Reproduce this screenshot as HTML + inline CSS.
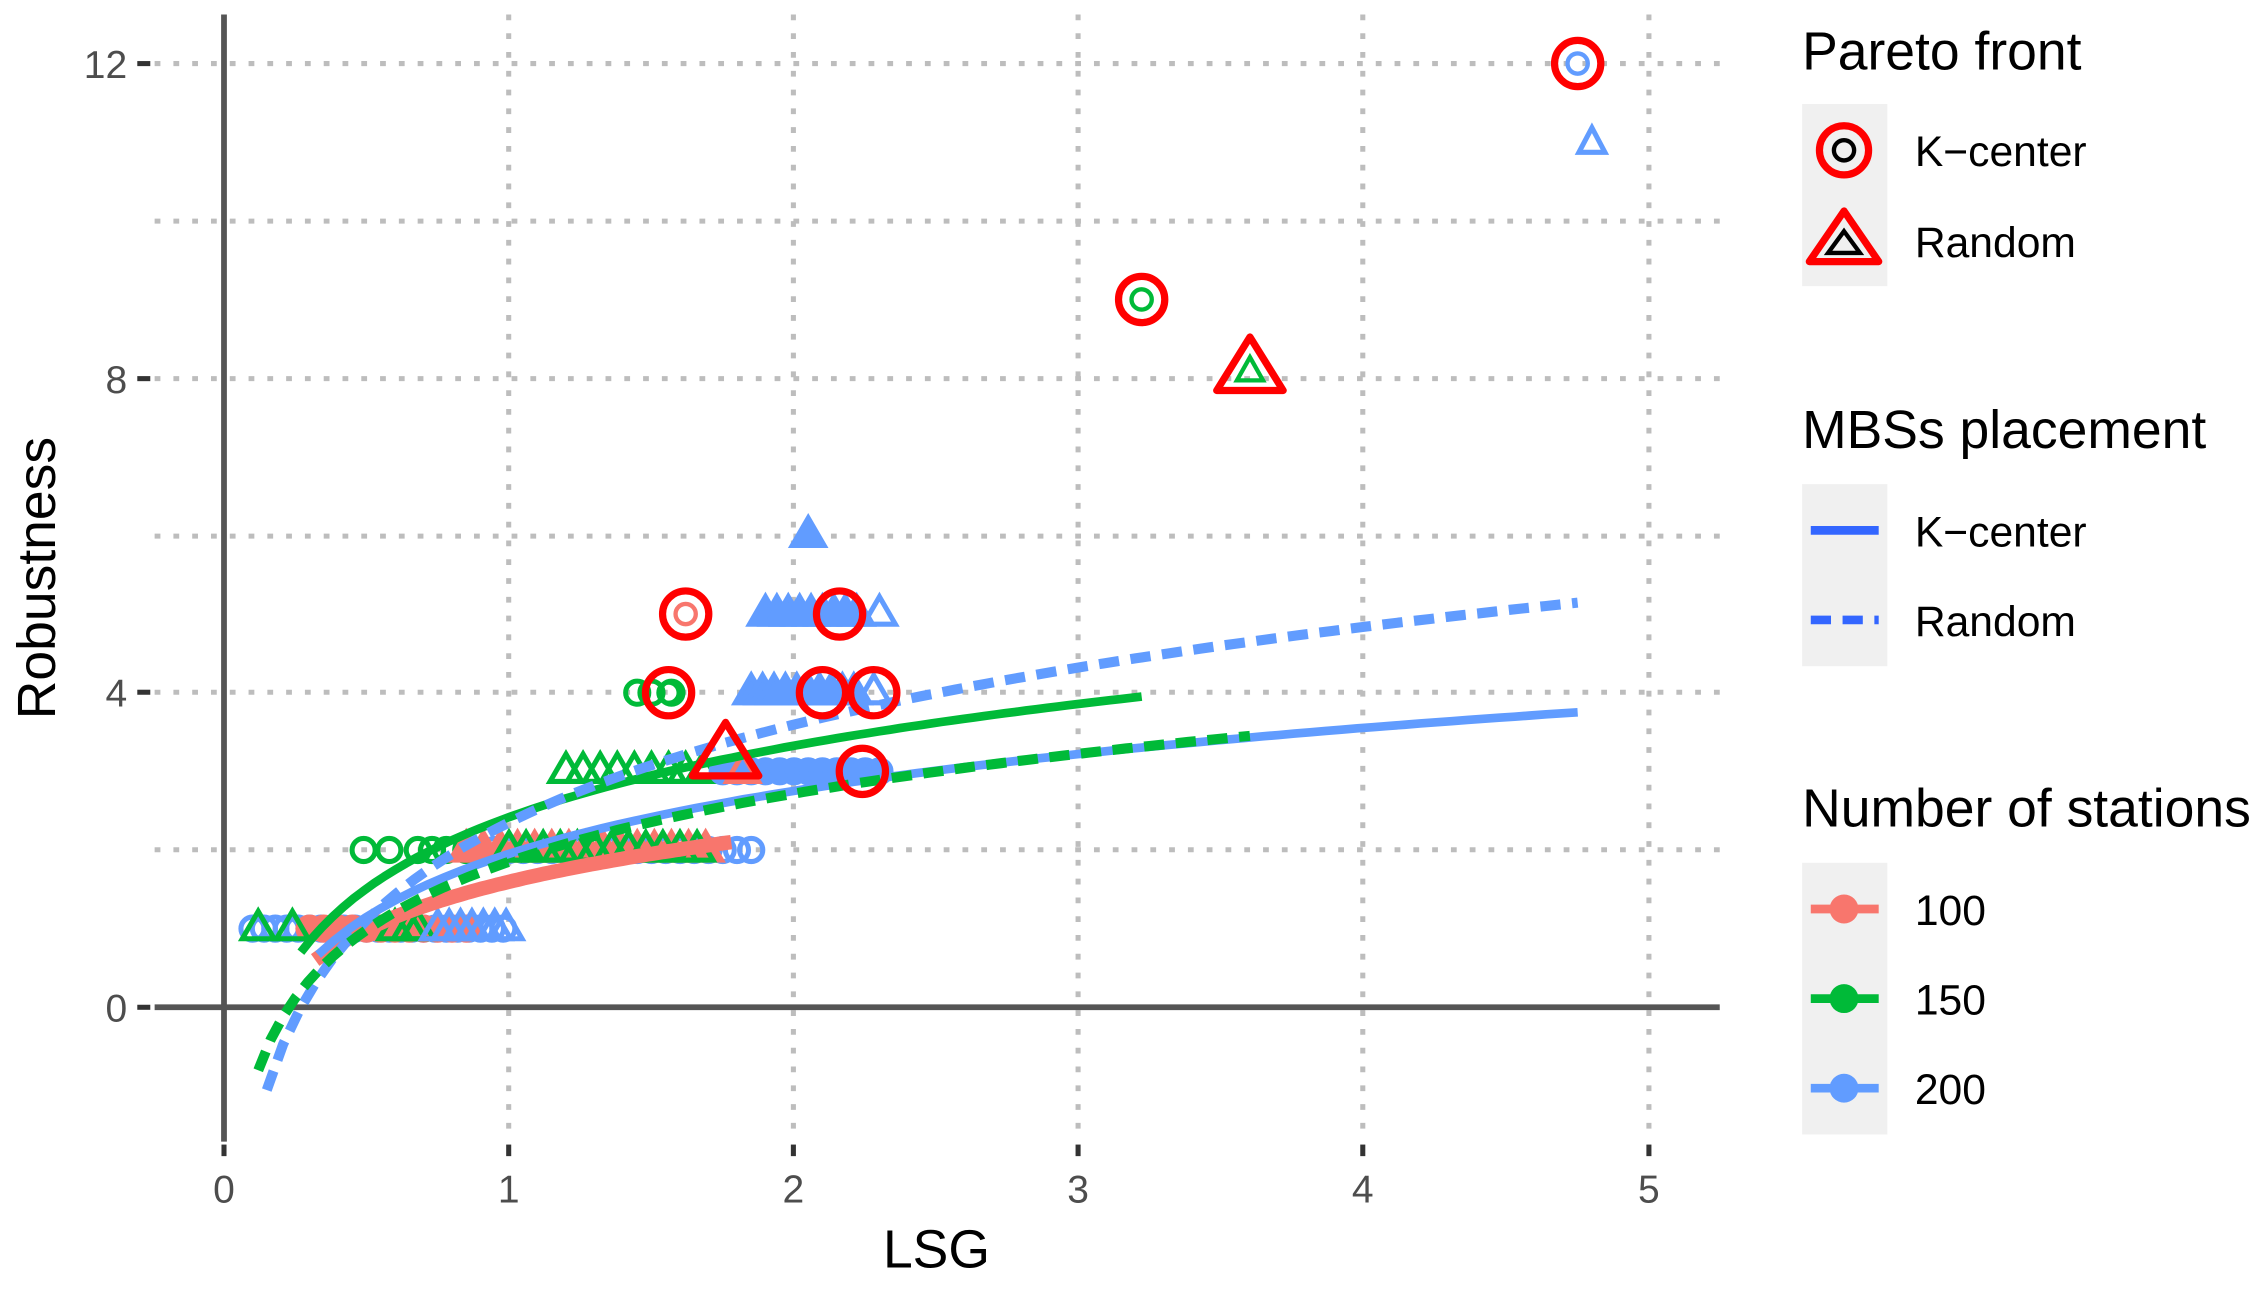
<!DOCTYPE html>
<html><head><meta charset="utf-8"><style>html,body{margin:0;padding:0;background:#fff}svg{display:block}</style></head>
<body>
<svg id="s" width="2266" height="1294" viewBox="0 0 1568 895.4" preserveAspectRatio="none" xmlns="http://www.w3.org/2000/svg" font-family="Liberation Sans, Arial, sans-serif">
<g stroke="#bdbdbd" stroke-width="3.5" stroke-dasharray="4,9">
<line x1="107" x2="1190" y1="44" y2="44"/><line x1="107" x2="1190" y1="153" y2="153"/><line x1="107" x2="1190" y1="262" y2="262"/><line x1="107" x2="1190" y1="371" y2="371"/><line x1="107" x2="1190" y1="479" y2="479"/><line x1="107" x2="1190" y1="588" y2="588"/>
<line x1="352" x2="352" y1="10" y2="790"/><line x1="549" x2="549" y1="10" y2="790"/><line x1="746" x2="746" y1="10" y2="790"/><line x1="943" x2="943" y1="10" y2="790"/><line x1="1141" x2="1141" y1="10" y2="790"/>
</g>
<line x1="155" x2="155" y1="10" y2="790" stroke="#555" stroke-width="4"/>
<line x1="107" x2="1190" y1="697" y2="697" stroke="#555" stroke-width="4"/>
<g stroke="#333" stroke-width="3.5">
<line x1="95" x2="104" y1="44" y2="44"/><line x1="95" x2="104" y1="262" y2="262"/><line x1="95" x2="104" y1="479" y2="479"/><line x1="95" x2="104" y1="697" y2="697"/>
<line x1="155" x2="155" y1="792" y2="800"/><line x1="352" x2="352" y1="792" y2="800"/><line x1="549" x2="549" y1="792" y2="800"/><line x1="746" x2="746" y1="792" y2="800"/><line x1="943" x2="943" y1="792" y2="800"/><line x1="1141" x2="1141" y1="792" y2="800"/>
</g>
<g font-size="27" fill="#4d4d4d" text-anchor="end">
<text x="88" y="54">12</text><text x="88" y="272">8</text><text x="88" y="489">4</text><text x="88" y="707">0</text>
</g>
<g font-size="27" fill="#4d4d4d" text-anchor="middle">
<text x="155" y="832">0</text><text x="352" y="832">1</text><text x="549" y="832">2</text><text x="746" y="832">3</text><text x="943" y="832">4</text><text x="1141" y="832">5</text>
</g>
<text x="648" y="877" font-size="37" text-anchor="middle">LSG</text>
<text transform="translate(38,400) rotate(-90)" font-size="37" text-anchor="middle">Robustness</text>
<g id="pts"></g>
<g id="crv"></g>
<g id="par"></g>
<text x="1247" y="48" font-size="37">Pareto front</text>
<rect x="1247" y="72" width="59" height="126" fill="#f0f0f0"/>
<circle cx="1276" cy="104" r="17" fill="none" stroke="red" stroke-width="5"/><circle cx="1276" cy="104" r="7" fill="none" stroke="#000" stroke-width="3"/>
<polygon points="1276,146 1300,181 1252,181" fill="none" stroke="red" stroke-width="5" stroke-linejoin="round"/><polygon points="1276,160 1287,175 1265,175" fill="none" stroke="#000" stroke-width="3"/>
<text x="1325" y="115" font-size="29.5">K−center</text><text x="1325" y="178" font-size="29.5">Random</text>
<text x="1247" y="310" font-size="37">MBSs placement</text>
<rect x="1247" y="335" width="59" height="126" fill="#f0f0f0"/>
<line x1="1253" x2="1300" y1="367" y2="367" stroke="#3366ff" stroke-width="6"/>
<line x1="1253" x2="1300" y1="429" y2="429" stroke="#3366ff" stroke-width="6" stroke-dasharray="14,8"/>
<text x="1325" y="378" font-size="29.5">K−center</text><text x="1325" y="440" font-size="29.5">Random</text>
<text x="1247" y="572" font-size="37">Number of stations</text>
<rect x="1247" y="597" width="59" height="188" fill="#f0f0f0"/>
<line x1="1253" x2="1300" y1="629" y2="629" stroke="#f8766d" stroke-width="6"/><circle cx="1276" cy="629" r="10" fill="#f8766d"/>
<line x1="1253" x2="1300" y1="691" y2="691" stroke="#00ba38" stroke-width="6"/><circle cx="1276" cy="691" r="10" fill="#00ba38"/>
<line x1="1253" x2="1300" y1="753" y2="753" stroke="#619cff" stroke-width="6"/><circle cx="1276" cy="753" r="10" fill="#619cff"/>
<text x="1325" y="640" font-size="29.5">100</text><text x="1325" y="702" font-size="29.5">150</text><text x="1325" y="764" font-size="29.5">200</text>
</svg>
<script>
var NS="http://www.w3.org/2000/svg";
function X(v){return 155+197.2*v}function Y(r){return 697-54.42*r}
function el(p,t,a){var e=document.createElementNS(NS,t);for(var k in a)e.setAttribute(k,a[k]);document.getElementById(p).appendChild(e);return e}
var R="#f8766d",G="#00ba38",B="#619cff";
function circ(x,y,c,r,f){el("pts","circle",{cx:X(x),cy:Y(y),r:r||8,fill:f?c:"none",stroke:c,"stroke-width":3.5})}
function tri(x,y,c,f){var cx=X(x),cy=Y(y);el("pts","polygon",{points:(cx)+","+(cy-12)+" "+(cx+11)+","+(cy+7)+" "+(cx-11)+","+(cy+7),fill:f?c:"none",stroke:c,"stroke-width":3.5})}
var i;
for(i=0.1;i<=1.0;i+=0.04){circ(i,1,B);}
for(i=0.3;i<=0.9;i+=0.05){circ(i,1,R,8,true);}
[0.12,0.24,0.6,0.65,0.68].forEach(function(v){tri(v,1,G)});
for(i=0.75;i<=1.0;i+=0.04){tri(i,1,B)}
[0.49,0.58,0.68,0.73,0.78,0.85].forEach(function(v){circ(v,2,G)});
for(i=0.95;i<=1.9;i+=0.05){circ(i,2,B)}
for(i=0.85;i<=1.75;i+=0.06){tri(i,2,R,true)}
for(i=1.0;i<=1.7;i+=0.06){tri(i,2,G)}
for(i=1.2;i<=1.7;i+=0.06){tri(i,3,G)}
for(i=1.75;i<=2.3;i+=0.05){circ(i,3,B,8,true)}
tri(1.82,3,R);
[1.45,1.5,1.57].forEach(function(v){circ(v,4,G)});
for(i=1.85;i<=2.25;i+=0.04){tri(i,4,B,true)}tri(2.28,4,B);
for(i=1.9;i<=2.25;i+=0.04){tri(i,5,B,true)}tri(2.3,5,B);
tri(2.05,6,B,true);
function curve(a,b,x0,x1,c,dash,w){var d="";for(var k=0;k<=80;k++){var x=x0+(x1-x0)*k/80;d+=(k?"L":"M")+X(x).toFixed(1)+","+Y(a+b*Math.log(x)).toFixed(1)}var o={d:d,fill:"none",stroke:c,"stroke-width":w||5};if(dash)o["stroke-dasharray"]="14,8";el("crv","path",o)}
curve(1.596,0.874,0.32,1.78,R,false,10);
curve(1.95,1.156,0.33,4.75,B,false,6);
curve(2.417,1.311,0.27,3.22,G,false,6);
curve(2.35,1.794,0.15,4.75,B,true,7);
curve(1.85,1.25,0.12,3.6,G,true,7);
function pc(x,y,inner){el("par","circle",{cx:X(x),cy:Y(y),r:16,fill:"none",stroke:"red","stroke-width":5});if(inner)el("par","circle",{cx:X(x),cy:Y(y),r:7,fill:"none",stroke:inner,"stroke-width":3})}
pc(1.62,5,R);pc(1.56,4,G);pc(2.16,5);pc(2.1,4);pc(2.28,4);pc(2.24,3);pc(3.22,9,G);pc(4.75,12,B);
function pt(x,y,inner){var cx=X(x),cy=Y(y);el("par","polygon",{points:cx+","+(cy-23)+" "+(cx+23)+","+(cy+14)+" "+(cx-23)+","+(cy+14),fill:"none",stroke:"red","stroke-width":5,"stroke-linejoin":"round"});if(inner)el("par","polygon",{points:cx+","+(cy-9)+" "+(cx+9)+","+(cy+7)+" "+(cx-9)+","+(cy+7),fill:"none",stroke:inner,"stroke-width":3})}
pt(1.76,3.2);pt(3.6,8.1,G);
(function(){var cx=X(4.8),cy=Y(11);el("par","polygon",{points:cx+","+(cy-10)+" "+(cx+9)+","+(cy+7)+" "+(cx-9)+","+(cy+7),fill:"none",stroke:B,"stroke-width":3.5})})();
</script>
</body></html>
